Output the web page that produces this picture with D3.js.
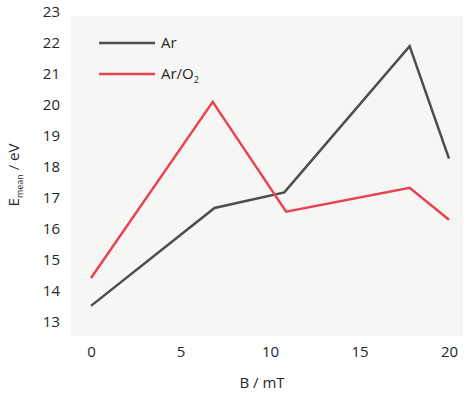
<!DOCTYPE html>
<html>
<head>
<meta charset="utf-8">
<script src="https://cdn.jsdelivr.net/npm/d3@7"></script>
<style>
  body { margin: 0; background: #fff; }
  text { font-family: "Open Sans", sans-serif; fill: #262626; }
</style>
</head>
<body>
<div id="chart"></div>
<script>
// data
const xAr = [0, 6.9, 10.8, 17.8, 20];
const yAr = [13.52, 16.68, 17.18, 21.9, 18.27];
const xArO2 = [0, 6.8, 10.9, 17.8, 20];
const yArO2 = [14.42, 20.1, 16.56, 17.33, 16.3];
const xTicks = [0, 5, 10, 15, 20];
const yTicks = [13, 14, 15, 16, 17, 18, 19, 20, 21, 22, 23];
const seriesNames = ['Ar', 'Ar/O2'];
const seriesColors = ['#4d4d4d', '#e8434f'];

const width = 474;
const height = 398;
const fs = '15px';

const svg = d3.select('#chart')
  .append('svg')
  .attr('width', width)
  .attr('height', height);

// plot box
svg.append('rect')
  .attr('x', 71).attr('y', 16)
  .attr('width', 392).attr('height', 320)
  .attr('fill', '#f6f6f5');

const x = d3.scaleLinear().domain([0, 20]).range([91, 449]);
const y = d3.scaleLinear().domain([13, 23]).range([322, 12]);

// axes: labels only
const xAxis = svg.append('g')
  .attr('transform', 'translate(0, 346)')
  .call(d3.axisBottom(x).tickValues(xTicks).tickSize(0).tickPadding(0));
xAxis.select('.domain').remove();
xAxis.selectAll('text')
  .style('font-size', fs)
  .style('font-family', '"Open Sans", sans-serif')
  .attr('fill', '#262626');

const yAxis = svg.append('g')
  .attr('transform', 'translate(60, 0)')
  .call(d3.axisLeft(y).tickValues(yTicks).tickSize(0).tickPadding(0));
yAxis.select('.domain').remove();
yAxis.selectAll('text')
  .style('font-size', fs)
  .style('font-family', '"Open Sans", sans-serif')
  .attr('fill', '#262626');

// axis titles
svg.append('text')
  .attr('x', 262).attr('y', 388)
  .attr('text-anchor', 'middle')
  .style('font-size', fs)
  .text('B / mT');

const yt = svg.append('text')
  .attr('transform', 'translate(19, 175) rotate(-90)')
  .attr('text-anchor', 'middle')
  .style('font-size', fs);
yt.append('tspan').text('E');
yt.append('tspan').attr('dy', 4).style('font-size', '9px').text('mean');
yt.append('tspan').attr('dy', -4).text(' / eV');

// lines
const line = d3.line();
const series = [
  { xs: xAr, ys: yAr },
  { xs: xArO2, ys: yArO2 }
];
series.forEach((s, i) => {
  svg.append('path')
    .attr('d', line(s.xs.map((v, j) => [x(v), y(s.ys[j])])))
    .attr('fill', 'none')
    .attr('stroke', seriesColors[i])
    .attr('stroke-width', 2.5)
    .attr('stroke-linejoin', 'miter');
});

// legend
const legend = svg.append('g');
seriesNames.forEach((name, i) => {
  const ly = 43 + i * 31;
  legend.append('line')
    .attr('x1', 99).attr('x2', 155)
    .attr('y1', ly).attr('y2', ly)
    .attr('stroke', seriesColors[i])
    .attr('stroke-width', 2.5);
  const t = legend.append('text')
    .attr('x', 161).attr('y', ly + 5)
    .style('font-size', fs);
  if (name === 'Ar/O2') {
    t.append('tspan').text('Ar/O');
    t.append('tspan').attr('dy', 4).style('font-size', '9px').text('2');
  } else {
    t.text(name);
  }
});
</script>
</body>
</html>
